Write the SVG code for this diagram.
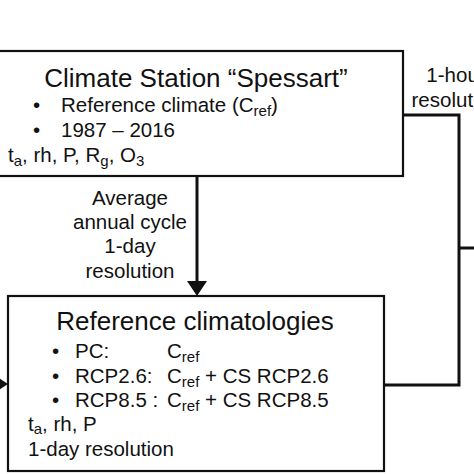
<svg xmlns="http://www.w3.org/2000/svg" width="474" height="474" viewBox="0 0 474 474">
<style>
text{font-family:"Liberation Sans",Arial,sans-serif;fill:#111;}
.t{font-size:26px;}
.b{font-size:20.5px;}
.s{font-size:15px;}
.box{fill:#fff;stroke:#111;stroke-width:2.2;}
.ln{fill:none;stroke:#111;stroke-width:3;}
</style>
<rect width="474" height="474" fill="#fff"/>
<g id="connectors">
<path class="ln" d="M197,176 V283"/>
<polygon points="187,281 207,281 197,296" fill="#111"/>
<path class="ln" d="M403,115 H459 V385 H384"/>
<path class="ln" d="M459,248 H476"/>
<path class="ln" d="M-10,384 H0"/>
<polygon points="-7,374 -7,394 8,384" fill="#111"/>
<g id="lbl-avg" class="b" text-anchor="middle">
<text x="130" y="205">Average</text>
<text x="130" y="229">annual cycle</text>
<text x="130" y="253">1-day</text>
<text x="130" y="278">resolution</text>
</g>
<g id="lbl-hour" class="b" text-anchor="middle">
<text x="456" y="82">1-hour</text>
<text x="456" y="107">resolution</text>
</g>
</g>
<g id="station">
<rect class="box" x="-2" y="51" width="405" height="125"/>
<text class="t" x="196" y="87" text-anchor="middle">Climate Station “Spessart”</text>
<text class="b" x="33" y="112">•</text>
<text class="b" x="61" y="112">Reference climate (C<tspan class="s" dy="4">ref</tspan><tspan dy="-4">)</tspan></text>
<text class="b" x="33" y="137">•</text>
<text class="b" x="61" y="137">1987 – 2016</text>
<text class="b" x="8" y="162">t<tspan class="s" dy="4">a</tspan><tspan dy="-4">, rh, P, R</tspan><tspan class="s" dy="4">g</tspan><tspan dy="-4">, O</tspan><tspan class="s" dy="4">3</tspan></text>
</g>
<g id="refclim">
<rect class="box" x="8" y="296" width="376" height="175"/>
<text class="t" x="195" y="330" text-anchor="middle">Reference climatologies</text>
<text class="b" x="52" y="358">•</text>
<text class="b" x="75" y="358">PC:</text>
<text class="b" x="167" y="358">C<tspan class="s" dy="4">ref</tspan></text>
<text class="b" x="52" y="383">•</text>
<text class="b" x="75" y="383">RCP2.6:</text>
<text class="b" x="167" y="383">C<tspan class="s" dy="4">ref</tspan><tspan dy="-4"> + CS RCP2.6</tspan></text>
<text class="b" x="52" y="407">•</text>
<text class="b" x="75" y="407">RCP8.5 :</text>
<text class="b" x="167" y="407">C<tspan class="s" dy="4">ref</tspan><tspan dy="-4"> + CS RCP8.5</tspan></text>
<text class="b" x="28" y="431">t<tspan class="s" dy="3">a</tspan><tspan dy="-3">, rh, P</tspan></text>
<text class="b" x="28" y="456">1-day resolution</text>
</g>
</svg>
